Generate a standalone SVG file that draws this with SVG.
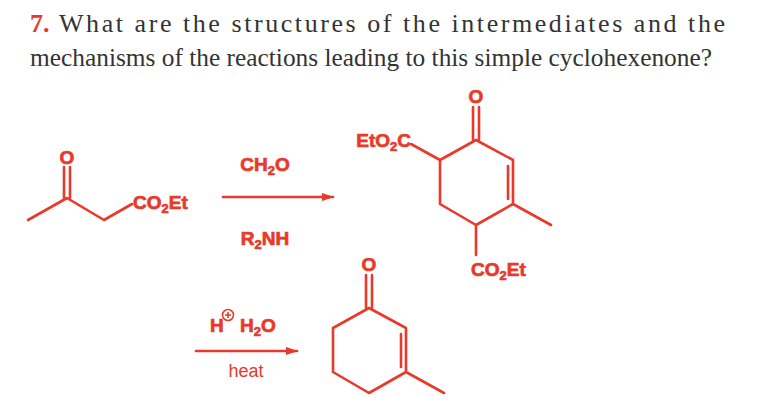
<svg xmlns="http://www.w3.org/2000/svg" width="758" height="410" viewBox="0 0 758 410">
<defs>
<marker id="ah" markerWidth="12" markerHeight="8" refX="11" refY="4" orient="auto" markerUnits="userSpaceOnUse"><path d="M0,0 L12,4 L0,8 Z" fill="#e8392a"/></marker>
</defs>
<style>
.q{font-family:"Liberation Serif",serif;font-size:26px;fill:#333}
.b{stroke:#e8392a;stroke-width:2.6;fill:none;stroke-linecap:round;stroke-linejoin:round}
.l{font-family:"Liberation Sans",Arial,sans-serif;font-weight:bold;font-size:19px;fill:#e8392a;stroke:#e8392a;stroke-width:0.7}
.s{font-size:13px}
.h{font-family:"Liberation Sans",Arial,sans-serif;font-size:18px;fill:#e8392a}
</style>
<rect width="758" height="410" fill="#fff"/>
<text class="q" x="30" y="32" font-weight="bold" style="fill:#e8392a">7.</text>
<text class="q" x="59" y="32" textLength="666" lengthAdjust="spacing">What are the structures of the intermediates and the</text>
<text class="q" x="30" y="66" textLength="682" lengthAdjust="spacingAndGlyphs">mechanisms of the reactions leading to this simple cyclohexenone?</text>
<g id="start">
<path class="b" d="M28,220 L67,198 L104,220 L132,204"/>
<path class="b" d="M64,198 V167 M70,198 V167"/>
<text class="l" x="67" y="164" text-anchor="middle">O</text>
<text class="l" x="133" y="209">CO<tspan class="s" dy="4">2</tspan><tspan dy="-4">Et</tspan></text>
</g>
<g id="intermediate">
<path class="b" d="M476,140 L513,160 L513,204 L476,225 L440,204 L440,160 Z M513,204 L551,225 M508,166 V199 M476,225 V255 M440,160 L411,144"/>
<path class="b" d="M473,140 V107 M479,140 V107"/>
<text class="l" x="476" y="103" text-anchor="middle">O</text>
<text class="l" x="411" y="147" text-anchor="end">EtO<tspan class="s" dy="4">2</tspan><tspan dy="-4">C</tspan></text>
<text class="l" x="471" y="276">CO<tspan class="s" dy="4">2</tspan><tspan dy="-4">Et</tspan></text>
</g>
<g id="product">
<path class="b" d="M369,308 L406,328 L406,372 L369,393 L333,372 L333,328 Z M406,372 L444,393 M401,334 V367"/>
<path class="b" d="M366,308 V275 M372,308 V275"/>
<text class="l" x="369" y="271" text-anchor="middle">O</text>
</g>
<g id="reagents1">
<text class="l" x="265" y="171" text-anchor="middle">CH<tspan class="s" dy="4">2</tspan><tspan dy="-4">O</tspan></text>
<text class="l" x="265" y="245" text-anchor="middle">R<tspan class="s" dy="4">2</tspan><tspan dy="-4">NH</tspan></text>
</g>
<g id="reagents2">
<text class="l" x="210" y="332">H</text>
<circle cx="228" cy="315" r="5.5" fill="none" stroke="#e8392a" stroke-width="1.6"/>
<path d="M225,315 H231 M228,312 V318" stroke="#e8392a" stroke-width="1.6"/>
<text class="l" x="240" y="332">H<tspan class="s" dy="4">2</tspan><tspan dy="-4">O</tspan></text>
<text class="h" x="246" y="377" text-anchor="middle">heat</text>
</g>
<g id="connectors">
<line class="b" x1="223" y1="197" x2="333" y2="197" stroke-width="2" marker-end="url(#ah)"/>
<line class="b" x1="196" y1="351" x2="297" y2="351" stroke-width="2" marker-end="url(#ah)"/>
</g>
</svg>
